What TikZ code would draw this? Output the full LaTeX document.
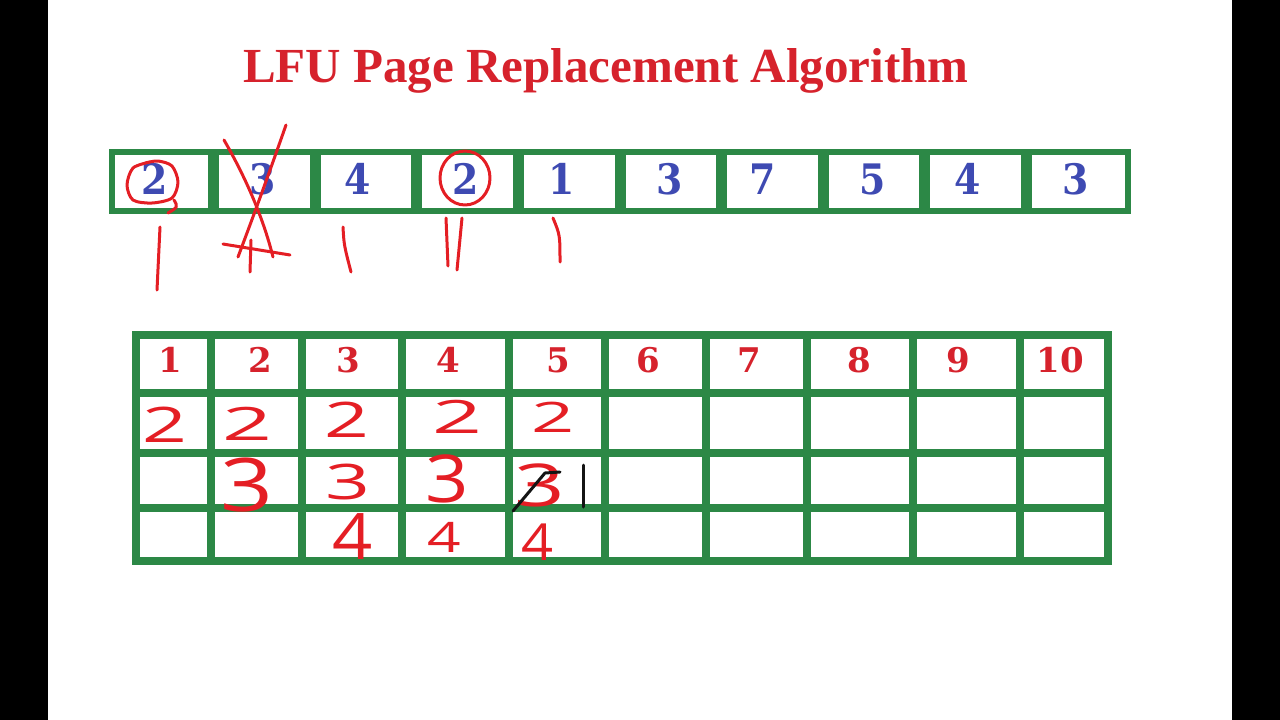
\documentclass[tikz,border=0pt]{standalone}
\usepackage{fontspec}
\usepackage{graphicx}
\usetikzlibrary{positioning,calc}
\newfontfamily\titlefont{Liberation Serif}
\newfontfamily\pagefont{DejaVu Serif}
\newfontfamily\condfont{DejaVu Serif Condensed}
\newfontfamily\handfont{Open Sans}
\newcommand{\handsz}[1]{\handfont\fontsize{#1}{#1}\selectfont}
\newcommand{\widen}[2]{\scalebox{#1}[1]{#2}}
\definecolor{gridgreen}{RGB}{44,136,70}
\definecolor{titlered}{RGB}{214,34,44}
\definecolor{pageblue}{RGB}{62,74,178}
\definecolor{inkred}{RGB}{228,30,36}
\definecolor{inkblack}{RGB}{20,20,20}
\tikzstyle{pagenum} = [text=pageblue, font=\condfont\bfseries\fontsize{42}{42}\selectfont, anchor=base, inner sep=0pt]
\tikzstyle{framenum} = [text=titlered, font=\pagefont\bfseries\fontsize{34}{34}\selectfont, anchor=base, inner sep=0pt]
\tikzstyle{hand} = [text=inkred, inner sep=0pt]
\tikzstyle{inkline} = [draw=inkred, line width=3pt, line cap=round, line join=round]
\tikzstyle{gridline} = [draw=gridgreen, line width=8pt]

\begin{document}
\begin{tikzpicture}[x=1pt,y=-1pt]
        \useasboundingbox (0,0) rectangle (1280,720);
        \fill[black] (0,0) rectangle (48,720);
        \fill[black] (1232,0) rectangle (1280,720);

        \node[anchor=base west, inner sep=0pt, text=titlered, font=\titlefont\bfseries\fontsize{49}{49}\selectfont] (title) at (243,82) {LFU Page Replacement Algorithm};

        % reference string
        \draw[gridline, line width=6pt] (112,152) rectangle (1128,211);
        \foreach \i in {1,...,9}
            \draw[gridline, line width=11pt] ({112+101.6*\i},152) -- ({112+101.6*\i},211);
        \foreach \x/\p [count=\i] in {155/2,263/3,358/4,466/2,562/1,670/3,763/7,873/5,968/4,1076/3}
            \node[pagenum] (p\i) at (\x,194) {\p};

        % frames
        \draw[gridline] (136,335) rectangle (1108,561);
        \foreach \x in {211,302,402,509,605,706,807,913,1020}
            \draw[gridline] (\x,335) -- (\x,561);
        \foreach \y in {393,453,508}
            \draw[gridline] (136,\y) -- (1108,\y);
        \foreach \x/\n in {170/1,260/2,348/3,448/4,558/5,648/6,749/7,859/8,958/9,1060/10}
            \node[framenum] (f\n) at (\x,372) {\n};

        % counts written under the string
        \draw[inkline] plot[smooth] coordinates {(150,162) (133,168) (127,185) (133,200) (152,203) (172,198) (178,182) (172,166) (158,161) (145,163)};
        \draw[inkline] (174,200) .. controls (178,207) .. (168,213);
        \draw[inkline] (160,227) -- (157,290);
        \draw[inkline] (224,140) .. controls (250,185) and (265,225) .. (273,257);
        \draw[inkline] (286,125) .. controls (265,185) and (250,225) .. (238,257);
        \draw[inkline] (223,244) -- (290,255);
        \draw[inkline] (251,240) -- (250,272);
        \draw[inkline] (343,227) .. controls (344,245) .. (351,272);
        \draw[inkline] (465,178) ellipse [x radius=25, y radius=27];
        \draw[inkline] (446,218) -- (448,266);
        \draw[inkline] (462,218) -- (457,270);
        \draw[inkline] (553,218) .. controls (560,235) .. (560,262);

        % frame contents
        \node[hand, font=\handsz{49}] (a1) at (165,425) {\widen{1.6}{2}};
        \node[hand, font=\handsz{46}] (a2) at (247,424) {\widen{1.9}{2}};
        \node[hand, font=\handsz{49}] (a3) at (347,420) {\widen{1.6}{2}};
        \node[hand, font=\handsz{46}] (a4) at (457,417) {\widen{1.9}{2}};
        \node[hand, font=\handsz{42}] (a5) at (553,417) {\widen{1.8}{2}};
        \node[hand, font=\handsz{74}] (b2) at (247,485) {\widen{1.25}{3}};
        \node[hand, font=\handsz{49}] (b3) at (348,482) {\widen{1.6}{3}};
        \node[hand, font=\handsz{66}] (b4) at (447,479) {\widen{1.15}{3}};
        \node[hand, font=\handsz{59}] (b5) at (540,485) {\widen{1.5}{3}};
        \node[hand, font=\handsz{64}] (c3) at (353,537) {\widen{1.1}{4}};
        \node[hand, font=\handsz{42}] (c4) at (444,537) {\widen{1.4}{4}};
        \node[hand, font=\handsz{51}] (c5) at (538,542) {\widen{1.1}{4}};
        \draw[inkline, draw=inkblack] (513,511) -- (545,473) -- (560,472);
        \draw[inkline, draw=inkblack] (583,465) -- (583,507);
\end{tikzpicture}
\end{document}
